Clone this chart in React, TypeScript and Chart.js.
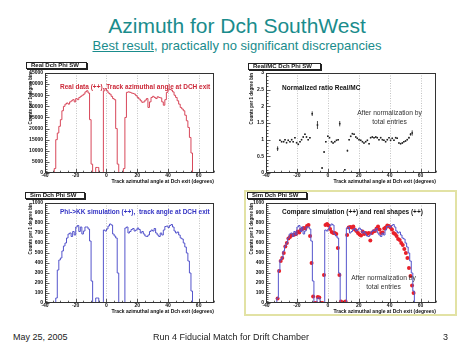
import React, { useEffect, useRef } from 'react';
import { Chart, registerables } from 'chart.js';

Chart.register(...registerables);

// ---------------- data ----------------
const X_MIN = -40;
const X_MAX = 70;
const X_STEP = 20;

// 1-degree bins, first value is the bin starting at REAL_FIRST_BIN
const REAL_FIRST_BIN = -34;
const realCounts = [
  2000, 15000, 18000, 21000, 24000, 28000, 30000, 31000, 31500, 31000,
  32000, 32500, 33000, 32000, 33500, 33000, 34000, 34500, 35000, 35500,
  36500, 37000, 36000, 24000, 4000, 0, 0, 2500, 2500, 0,
  0, 0, 37000, 38000, 37000, 36000, 35500, 34500, 33500, 33000,
  20000, 4000, 0, 0, 0, 2000, 25000, 36300, 36500, 36300,
  36000, 35800, 35500, 34800, 34000, 33300, 32500, 31800, 32000, 32800,
  33500, 29500, 32000, 34000, 34500, 34000, 33500, 34300, 34000, 33800,
  32000, 30500, 33000, 36300, 37400, 37600, 37300, 36500, 35000, 34000,
  32500, 31000, 29500, 28800, 28000, 26000, 23500, 20500, 16000, 9000,
  0,
];

const SIM_FIRST_BIN = -34;
const simCounts = [
  0, 50, 330, 430, 450, 520, 570, 600, 650, 690,
  700, 665, 715, 680, 760, 775, 715, 760, 690, 720,
  760, 760, 740, 620, 220, 0, 0, 50, 50, 0,
  0, 0, 730, 720, 740, 770, 790, 780, 690, 670,
  650, 300, 0, 0, 0, 0, 750, 760, 700, 715,
  735, 745, 720, 730, 750, 735, 700, 715, 690, 670,
  665, 680, 715, 730, 720, 745, 700, 680, 665, 700,
  680, 730, 765, 770, 755, 775, 785, 760, 720, 700,
  710, 680, 650, 640, 600, 560, 500, 420, 300, 120,
  0,
];

// real data normalised to the simulation entries (red markers, bin centres)
const REALNORM_FIRST_BIN = -33;
const realNormCounts = [
  45, 320, 420, 450, 500, 565, 600, 645, 660, 675,
  680, 685, 690, 715, 705, 730, 740, 750, 745, 770,
  780, 670, 400, 65, 0, 0, 60, 55, 0, 0,
  280, 780, 790, 775, 740, 710, 700, 700, 690, 550,
  280, 15, 5, 0, 15, 680, 755, 760, 755, 765,
  735, 720, 700, 685, 675, 715, 690, 700, 690, 700,
  625, 700, 715, 720, 745, 765, 735, 700, 705, 745,
  755, 775, 770, 755, 735, 700, 690, 670, 640, 630,
  600, 580, 540, 500, 450, 350, 270, 175, 100,
];

// Real/MC ratio points
const ratioX = [
  -32.5, -31, -29.9, -28.6, -27.7, -26.7, -25.6, -24.5, -23.4, -22.4,
  -21.3, -20.2, -19.1, -18, -17, -15.9, -14.8, -13.8, -12.7, -11.6,
  -10.1, -6.7, -3.7, -2.4, -1.3, 0, 1.1, 2.4, 3.4, 4.5,
  5.6, 6.7, 7.7, 11, 12.7, 13.8, 14.8, 15.9, 17, 18.1,
  19.1, 20.2, 21.3, 22.4, 23.4, 24.5, 25.6, 26.7, 27.7, 28.8,
  29.9, 31, 32, 33.1, 34.2, 35.3, 36.3, 37.4, 38.5, 39.6,
  40.6, 41.7, 42.8, 43.9, 44.9, 46, 47.1, 48.2, 49.2, 50.3,
  51.4, 52.5, 53.5, 54.6,
];
const ratioY = [
  0.73, 0.98, 0.94, 0.94, 1.0, 0.91, 0.98, 0.94, 1.0, 0.94,
  1.06, 0.91, 0.86, 0.94, 1.0, 1.08, 1.16, 1.08, 1.0, 1.06,
  1.78, 1.44, 0.15, 0.63, 0.94, 1.1, 1.06, 0.94, 0.9, 0.94,
  0.98, 1.0, 1.48, 0.1, 0.67, 1.0, 1.1, 1.18, 1.16, 1.08,
  1.04, 1.0, 0.98, 0.94, 0.9, 0.94, 0.98, 0.88, 1.06, 1.08,
  1.06, 1.08, 1.06, 1.0, 1.06, 1.0, 0.98, 0.94, 1.0, 1.06,
  0.98, 1.04, 0.98, 1.06, 1.04, 0.9, 0.88, 0.9, 0.94, 0.96,
  1.0, 1.06, 1.16, 1.2,
];
const ratioErr = [
  0.07, 0.02, 0.02, 0.02, 0.02, 0.02, 0.02, 0.02, 0.02, 0.02,
  0.02, 0.02, 0.02, 0.02, 0.02, 0.02, 0.02, 0.02, 0.02, 0.02,
  0.07, 0.12, 0.03, 0.03, 0.02, 0.02, 0.02, 0.02, 0.02, 0.02,
  0.02, 0.02, 0.08, 0.02, 0.03, 0.02, 0.02, 0.02, 0.02, 0.02,
  0.02, 0.02, 0.02, 0.02, 0.02, 0.02, 0.02, 0.02, 0.02, 0.02,
  0.02, 0.02, 0.02, 0.02, 0.02, 0.02, 0.02, 0.02, 0.02, 0.02,
  0.02, 0.02, 0.02, 0.02, 0.02, 0.02, 0.02, 0.02, 0.02, 0.02,
  0.02, 0.03, 0.04, 0.08,
];

const REAL_Y = { max: 45000, step: 5000, minor: 1000 };
const RATIO_Y = { max: 3, step: 0.5, minor: 0.1 };
const SIM_Y = { max: 1000, step: 100, minor: 20 };

// ---------------- style ----------------
const FONT = "'Liberation Sans', Arial, Helvetica, sans-serif";
const TEAL = '#1a8c8c';
const RED_LINE = '#d8475a';
const RED_TEXT = '#cc2a3a';
const RED_MARK = '#e8202a';
const BLUE_LINE = '#5555cc';
const BLUE_TEXT = '#3434c4';

type Area = { L: number; T: number; R: number; B: number };

function histPoints(first: number, counts: number[]) {
  const pts: { x: number; y: number }[] = [{ x: X_MIN, y: 0 }];
  counts.forEach((c, i) => pts.push({ x: first + i, y: c }));
  pts.push({ x: first + counts.length, y: 0 });
  pts.push({ x: X_MAX, y: 0 });
  return pts;
}

function rootPlugin(yMinor: number, errors?: boolean) {
  return {
    id: 'rootStyle',
    beforeDatasetsDraw(chart: any) {
      const { ctx, chartArea: a, scales } = chart;
      const xs = scales.x;
      const ys = scales.y;
      ctx.save();
      ctx.strokeStyle = '#b4b4b4';
      ctx.lineWidth = 0.8;
      ctx.setLineDash([1, 1.5]);
      for (const t of xs.ticks) {
        const px = Math.round(xs.getPixelForValue(t.value)) + 0.5;
        if (px <= a.left + 2 || px >= a.right - 2) continue;
        ctx.beginPath();
        ctx.moveTo(px, a.top);
        ctx.lineTo(px, a.bottom);
        ctx.stroke();
      }
      ctx.restore();
      if (errors) {
        ctx.save();
        ctx.strokeStyle = '#222';
        ctx.lineWidth = 0.8;
        for (let i = 0; i < ratioX.length; i++) {
          const px = xs.getPixelForValue(ratioX[i]);
          const y1 = ys.getPixelForValue(ratioY[i] - ratioErr[i]);
          const y2 = ys.getPixelForValue(ratioY[i] + ratioErr[i]);
          ctx.beginPath();
          ctx.moveTo(px, y1);
          ctx.lineTo(px, y2);
          ctx.stroke();
        }
        ctx.restore();
      }
    },
    afterDatasetsDraw(chart: any) {
      const { ctx, chartArea: a, scales } = chart;
      const xs = scales.x;
      const ys = scales.y;
      ctx.save();
      ctx.strokeStyle = '#333';
      ctx.lineWidth = 1;
      const l = Math.round(a.left) + 0.5;
      const r = Math.round(a.right) - 0.5;
      const t = Math.round(a.top) + 0.5;
      const b = Math.round(a.bottom) - 0.5;
      ctx.strokeRect(l, t, r - l, b - t);
      ctx.lineWidth = 0.8;
      ctx.beginPath();
      for (let v = X_MIN; v <= X_MAX + 1e-9; v += 5) {
        const px = Math.round(xs.getPixelForValue(v)) + 0.5;
        const len = v % X_STEP === 0 ? 3.5 : 1.8;
        ctx.moveTo(px, b);
        ctx.lineTo(px, b - len);
      }
      const yMax = ys.max;
      const n = Math.round(yMax / yMinor);
      const stepMaj = ys.options.ticks.stepSize;
      for (let i = 0; i <= n; i++) {
        const v = i * yMinor;
        const py = Math.round(ys.getPixelForValue(v)) + 0.5;
        const isMaj = Math.abs(v / stepMaj - Math.round(v / stepMaj)) < 1e-6;
        ctx.moveTo(l, py);
        ctx.lineTo(l + (isMaj ? 4 : 2), py);
      }
      ctx.stroke();
      ctx.restore();
    },
  };
}

function buildConfig(opts: {
  datasets: any[];
  y: { max: number; step: number; minor: number };
  area: Area;
  w: number;
  h: number;
  yTitleX: number;
  errors?: boolean;
}) {
  const { datasets, y, area, w, h, yTitleX, errors } = opts;
  const tickFont = { family: FONT, size: 5, weight: 'bold' as const };
  const yTitleSize = 4.5;
  return {
    type: 'line' as const,
    data: { datasets },
    options: {
      animation: false as const,
      responsive: false,
      maintainAspectRatio: false,
      events: [] as any[],
      layout: { padding: { left: 0, top: area.T, right: w - area.R, bottom: 0 } },
      plugins: {
        legend: { display: false },
        tooltip: { enabled: false },
        title: { display: false },
      },
      scales: {
        x: {
          type: 'linear' as const,
          min: X_MIN,
          max: X_MAX,
          afterFit: (s: any) => {
            s.height = h - area.B;
          },
          grid: { display: false, drawTicks: false },
          border: { display: false },
          ticks: {
            stepSize: X_STEP,
            includeBounds: false,
            autoSkip: false,
            maxRotation: 0,
            padding: 0,
            font: tickFont,
            color: '#111',
            callback: (v: any) => String(v),
          },
          title: {
            display: true,
            text: 'Track azimuthal angle at Dch exit (degrees)',
            align: 'end' as const,
            color: '#111',
            font: { family: FONT, size: 5, weight: 'bold' as const },
            padding: { top: 0, bottom: 1 },
          },
        },
        y: {
          type: 'linear' as const,
          min: 0,
          max: y.max,
          afterFit: (s: any) => {
            s.width = area.L;
          },
          grid: { display: false, drawTicks: false },
          border: { display: false },
          ticks: {
            stepSize: y.step,
            autoSkip: false,
            padding: 2,
            font: tickFont,
            color: '#111',
            callback: (v: any) => String(Math.round(v * 1000) / 1000),
          },
          title: {
            display: true,
            text: 'Counts per 1 degree bin',
            align: 'end' as const,
            color: '#111',
            font: { family: FONT, size: yTitleSize, weight: 'bold' as const },
            padding: { top: yTitleX - (yTitleSize * 1.2) / 2, bottom: 0 },
          },
        },
      },
    },
    plugins: [rootPlugin(y.minor, errors)],
  };
}

function ChartPanel(props: { left: number; top: number; w: number; h: number; make: () => any }) {
  const ref = useRef<HTMLCanvasElement>(null);
  useEffect(() => {
    const chart = new Chart(ref.current as HTMLCanvasElement, props.make());
    return () => chart.destroy();
  }, []);
  return (
    <canvas
      ref={ref}
      width={props.w}
      height={props.h}
      style={{ position: 'absolute', left: props.left, top: props.top, width: props.w, height: props.h }}
    />
  );
}

function Pave(props: { left: number; top: number; width: number; text: string }) {
  return (
    <div
      style={{
        position: 'absolute',
        left: props.left,
        top: props.top,
        width: props.width,
        height: 7,
        boxSizing: 'border-box',
        border: '1px solid #222',
        boxShadow: '1px 1px 0 #222',
        background: '#fff',
        fontSize: 6,
        fontWeight: 'bold',
        lineHeight: '5px',
        paddingLeft: 4,
        whiteSpace: 'nowrap',
        color: '#111',
        overflow: 'hidden',
      }}
    >
      {props.text}
    </div>
  );
}

function Txt(props: {
  left: number;
  top: number;
  size: number;
  color: string;
  bold?: boolean;
  width?: number;
  center?: boolean;
  children: React.ReactNode;
}) {
  return (
    <div
      style={{
        position: 'absolute',
        left: props.left,
        top: props.top,
        width: props.width,
        fontSize: props.size,
        lineHeight: props.size + 'px',
        color: props.color,
        fontWeight: props.bold ? 'bold' : 'normal',
        whiteSpace: 'pre',
        textAlign: props.center ? 'center' : 'left',
      }}
    >
      {props.children}
    </div>
  );
}

const CW = 237;
const CH = 131;
const LEFT_AREA: Area = { L: 45, T: 18, R: 214, B: 118 };
const RIGHT_AREA: Area = { L: 29, T: 18, R: 199, B: 118 };

export default function App() {
  const makeTL = () =>
    buildConfig({
      datasets: [
        {
          data: histPoints(REAL_FIRST_BIN, realCounts),
          borderColor: RED_LINE,
          borderWidth: 1,
          pointRadius: 0,
          stepped: true,
          fill: false,
        },
      ],
      y: REAL_Y,
      area: LEFT_AREA,
      w: CW,
      h: CH,
      yTitleX: 31,
    });
  const makeTR = () =>
    buildConfig({
      datasets: [
        {
          data: ratioX.map((x, i) => ({ x, y: ratioY[i] })),
          showLine: false,
          pointStyle: 'rect',
          pointRadius: 1.1,
          pointBackgroundColor: '#222',
          pointBorderColor: '#222',
          pointBorderWidth: 0,
        },
      ],
      y: RATIO_Y,
      area: RIGHT_AREA,
      w: CW,
      h: CH,
      yTitleX: 14.5,
      errors: true,
    });
  const makeBL = () =>
    buildConfig({
      datasets: [
        {
          data: histPoints(SIM_FIRST_BIN, simCounts),
          borderColor: BLUE_LINE,
          borderWidth: 1,
          pointRadius: 0,
          stepped: true,
          fill: false,
        },
      ],
      y: SIM_Y,
      area: LEFT_AREA,
      w: CW,
      h: CH,
      yTitleX: 31,
    });
  const makeBR = () =>
    buildConfig({
      datasets: [
        {
          data: histPoints(SIM_FIRST_BIN, simCounts),
          borderColor: BLUE_LINE,
          borderWidth: 1,
          pointRadius: 0,
          stepped: true,
          fill: false,
        },
        {
          data: realNormCounts.map((v, i) => ({ x: REALNORM_FIRST_BIN + i + 0.5, y: v })),
          showLine: false,
          pointStyle: 'circle',
          pointRadius: 2,
          pointBackgroundColor: RED_MARK,
          pointBorderColor: RED_MARK,
          pointBorderWidth: 0,
        },
      ],
      y: SIM_Y,
      area: RIGHT_AREA,
      w: CW,
      h: CH,
      yTitleX: 14.5,
    });

  return (
    <div
      style={{
        position: 'absolute',
        left: 0,
        top: 0,
        width: 474,
        height: 355,
        background: '#fff',
        overflow: 'hidden',
        fontFamily: FONT,
      }}
    >
      <div
        style={{
          position: 'absolute',
          left: 0,
          top: 15,
          width: 474,
          textAlign: 'center',
          fontSize: 21,
          lineHeight: '21px',
          color: TEAL,
        }}
      >
        Azimuth for Dch SouthWest
      </div>
      <div
        style={{
          position: 'absolute',
          left: 0,
          top: 39,
          width: 474,
          textAlign: 'center',
          fontSize: 13,
          lineHeight: '13px',
          color: TEAL,
        }}
      >
        <span style={{ textDecoration: 'underline' }}>Best result</span>, practically no significant discrepancies
      </div>

      <div
        style={{
          position: 'absolute',
          left: 244,
          top: 190,
          width: 213,
          height: 126,
          boxSizing: 'border-box',
          border: '2px solid #e2e2a4',
        }}
      />

      <ChartPanel left={0} top={55} w={CW} h={CH} make={makeTL} />
      <ChartPanel left={237} top={55} w={CW} h={CH} make={makeTR} />
      <ChartPanel left={0} top={185} w={CW} h={CH} make={makeBL} />
      <ChartPanel left={237} top={185} w={CW} h={CH} make={makeBR} />

      <Pave left={26} top={62} width={61} text="Real Dch Phi SW" />
      <Pave left={248} top={63} width={73} text="Real/MC Dch Phi SW" />
      <Pave left={25} top={192} width={60} text="Sim Dch Phi SW" />
      <Pave left={247} top={192} width={60} text="Sim Dch Phi SW" />

      <Txt left={60} top={84} size={6.5} color={RED_TEXT} bold>
        Real data (++), Track azimuthal angle at DCH exit
      </Txt>
      <Txt left={282} top={85} size={6.5} color="#111" bold>
        Normalized ratio Real/MC
      </Txt>
      <Txt left={339.5} top={109.5} width={100} size={6.7} color="#333" center>
        After normalization by
      </Txt>
      <Txt left={339.5} top={118.5} width={100} size={6.7} color="#333" center>
        total entries
      </Txt>
      <Txt left={60} top={208.5} size={6.5} color={BLUE_TEXT} bold>
        {'Phi->KK simulation (++),  track angle at DCH exit'}
      </Txt>
      <Txt left={282} top={208.5} size={6.5} color="#111" bold>
        Compare simulation (++) and real shapes (++)
      </Txt>
      <Txt left={333.5} top={274.5} width={100} size={6.7} color="#333" center>
        After normalization by
      </Txt>
      <Txt left={333.5} top={283.5} width={100} size={6.7} color="#333" center>
        total entries
      </Txt>

      <Txt left={13} top={333} size={9} color="#222">
        May 25, 2005
      </Txt>
      <Txt left={153} top={333} size={9} color="#222">
        Run 4 Fiducial Match for Drift Chamber
      </Txt>
      <Txt left={443} top={333} size={9} color="#222">
        3
      </Txt>
    </div>
  );
}
